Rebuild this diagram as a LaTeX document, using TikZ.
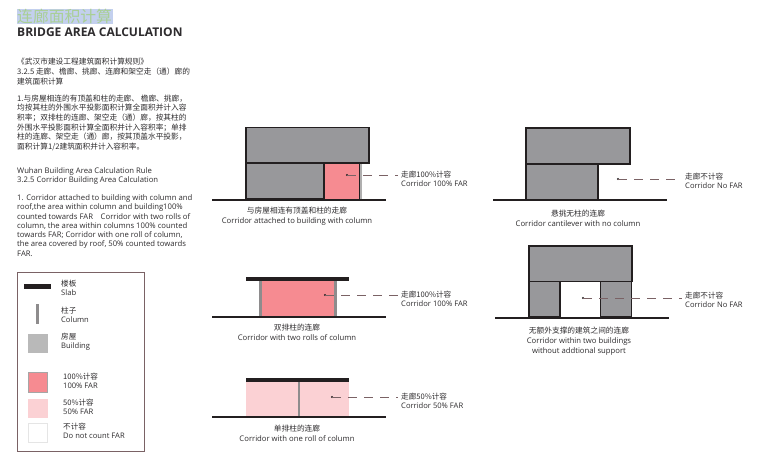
\documentclass[tikz,border=0pt]{standalone}
\usepackage{fontspec}
\setmainfont{Open Sans}
\newfontfamily\cjk{Noto Sans CJK SC}
\newcommand{\zh}[1]{{\cjk #1}}
\definecolor{wallgrey}{HTML}{98989B}
\definecolor{colgrey}{HTML}{8E8C8D}
\definecolor{farfull}{HTML}{F68B91}
\definecolor{farhalf}{HTML}{FBD1D4}
\definecolor{inkdark}{HTML}{231F20}
\definecolor{leadbrown}{HTML}{7A6265}
\definecolor{textgrey}{HTML}{2E2C2E}
\definecolor{markblue}{HTML}{C3D0EE}
\definecolor{markgreen}{HTML}{A9CF95}
\tikzset{
    wall/.style={draw=inkdark,line width=1.5pt,fill=wallgrey},
    ground/.style={draw=inkdark,line width=1.7pt},
    slab/.style={fill=inkdark},
    column/.style={fill=colgrey},
    leader/.style={draw=leadbrown,line width=.7pt,dash pattern=on 9pt off 7pt},
    tip/.style={fill=inkdark,circle,inner sep=0pt,minimum size=2.2pt},
    farlabel/.style={anchor=west,align=left,inner sep=3pt,text=textgrey,font=\fontsize{7.6}{9.3}\selectfont},
    caption/.style={align=center,inner sep=0pt,text=textgrey,font=\fontsize{7.7}{10}\selectfont},
    keylabel/.style={anchor=west,align=left,inner sep=0pt,text=textgrey,font=\fontsize{7.6}{9.2}\selectfont},
    body/.style={anchor=north west,align=left,inner sep=0pt,text=textgrey}
}
\begin{document}
\begin{tikzpicture}[x=1pt,y=-1pt]
    \useasboundingbox (0,0) rectangle (760,471);
    % heading
    \fill[fill=white] (0,0) rectangle (760,471);
    \fill[fill=markblue] (17,9) rectangle (113,24);
    \node[anchor=west,inner sep=0pt,text=markgreen,font=\cjk\fontsize{15.8}{16}\selectfont] (title) at (17,16.5) {连廊面积计算};
    \node[anchor=west,inner sep=0pt,text=textgrey,font=\bfseries\fontsize{12}{12}\selectfont] (subtitle) at (17,32.5) {BRIDGE AREA CALCULATION};
    % rule text
    \node[body,font=\cjk\fontsize{7.7}{9.6}\selectfont] (rulezh) at (17,58.2) {
        《武汉市建设工程建筑面积计算规则》\\
        3.2.5 走廊、檐廊、挑廊、连廊和架空走（通）廊的\\
        建筑面积计算\\[7.6pt]
        1.与房屋相连的有顶盖和柱的走廊、 檐廊、挑廊，\\
        均按其柱的外围水平投影面积计算全面积并计入容\\
        积率；双排柱的连廊、架空走（通）廊，按其柱的\\
        外围水平投影面积计算全面积并计入容积率；单排\\
        柱的连廊、架空走（通）廊，按其顶盖水平投影，\\
        面积计算1/2建筑面积并计入容积率。};
    \node[body,font=\fontsize{7.7}{9.3}\selectfont] (ruleen) at (17,167.2) {
        Wuhan Building Area Calculation Rule\\
        3.2.5 Corridor Building Area Calculation\\[8.6pt]
        1. Corridor attached to building with column and\\
        roof,the area within column and building100\%\\
        counted towards FAR\quad Corridor with two rolls of\\
        column, the area within columns 100\% counted\\
        towards FAR; Corridor with one roll of column,\\
        the area covered by roof, 50\% counted towards\\
        FAR.};
    % key
    \draw[draw=leadbrown,line width=.8pt] (17,272) rectangle (144,451);
    \fill[slab] (24,284) rectangle (51,289);
    \fill[column] (36,304) rectangle (38.6,324);
    \fill[fill=gray!55] (28,334) rectangle (47.5,352.5);
    \draw[draw=gray!70,fill=farfull,line width=.5pt] (28,372) rectangle (47.5,392);
    \fill[fill=farhalf] (28,399) rectangle (47.5,418);
    \draw[draw=gray!20,line width=.6pt] (28,423.5) rectangle (47.5,442);
    \node[keylabel] (keyslab) at (61,287.5) {\zh{楼板}\\Slab};
    \node[keylabel] (keycolumn) at (61,314.5) {\zh{柱子}\\Column};
    \node[keylabel] (keybuilding) at (61,341.5) {\zh{房屋}\\Building};
    \node[keylabel] (keyfull) at (63,380.5) {\zh{100\%计容}\\100\% FAR};
    \node[keylabel] (keyhalf) at (63,407) {\zh{50\%计容}\\50\% FAR};
    \node[keylabel] (keynone) at (63,430.5) {\zh{不计容}\\Do not count FAR};
    % attached corridor
    \fill[fill=colgrey!70] (359,163) rectangle (361.5,199);
    \fill[fill=farfull] (324,163) rectangle (359,199);
    \draw[draw=inkdark,line width=1pt] (359,163) -- (359,199);
    \draw[wall] (246,127.5) rectangle (369,163);
    \draw[wall] (246,163) rectangle (324,199);
    \draw[ground] (212,199.7) -- (386,199.7);
    \coordinate (far1) at (347,175);
    \node[tip] at (far1) {};
    \node[farlabel] (lab1) at (398,178.5) {\zh{走廊100\%计容}\\Corridor 100\% FAR};
    \draw[leader] (far1) -- (lab1.west |- far1);
    \node[caption] (cap1) at (297,216) {\zh{与房屋相连有顶盖和柱的走廊}\\Corridor attached to building with column};
    % two rolls
    \fill[fill=farfull] (262,281) rectangle (334,317);
    \fill[column] (259,281) rectangle (262,317);
    \fill[column] (334,281) rectangle (337,317);
    \fill[slab] (246,277) rectangle (349,281);
    \draw[ground] (212,317.3) -- (386,317.3);
    \coordinate (far2) at (325,295);
    \node[tip] at (far2) {};
    \node[farlabel] (lab2) at (398,299) {\zh{走廊100\%计容}\\Corridor 100\% FAR};
    \draw[leader] (far2) -- (lab2.west |- far2);
    \node[caption] (cap2) at (297,332.5) {\zh{双排柱的连廊}\\Corridor with two rolls of column};
    % one roll
    \fill[fill=farhalf] (246,382) rectangle (349,417);
    \fill[column] (297.5,382) rectangle (300.2,417);
    \fill[slab] (246,378) rectangle (349,382);
    \draw[ground] (212,417) -- (386,417);
    \coordinate (far3) at (332,397);
    \node[tip] at (far3) {};
    \node[farlabel] (lab3) at (398,400.5) {\zh{走廊50\%计容}\\Corridor 50\% FAR};
    \draw[leader] (far3) -- (lab3.west |- far3);
    \node[caption] (cap3) at (297,433) {\zh{单排柱的连廊}\\Corridor with one roll of column};
    % cantilever
    \draw[wall] (526,128) rectangle (630,164);
    \draw[wall] (526,164) rectangle (598,199.5);
    \draw[ground] (493,200) -- (667,200);
    \coordinate (far4) at (618,179);
    \node[tip] at (far4) {};
    \node[farlabel] (lab4) at (682,180.5) {\zh{走廊不计容}\\Corridor No FAR};
    \draw[leader] (far4) -- (lab4.west |- far4);
    \node[caption] (cap4) at (578,218.5) {\zh{悬挑无柱的连廊}\\Corridor cantilever with no column};
    % between buildings
    \draw[wall] (529,246) rectangle (632,281.5);
    \draw[wall] (529,281.5) rectangle (560,317);
    \draw[wall] (600.5,281.5) rectangle (631.5,317);
    \draw[ground] (495,318) -- (669,318);
    \coordinate (far5) at (583,298);
    \node[tip] at (far5) {};
    \node[farlabel] (lab5) at (682,299.5) {\zh{走廊不计容}\\Corridor No FAR};
    \draw[leader] (far5) -- (lab5.west |- far5);
    \node[caption] (cap5) at (579,341.5) {\zh{无额外支撑的建筑之间的连廊}\\Corridor within two buildings\\without addtional support};
\end{tikzpicture}
\end{document}
